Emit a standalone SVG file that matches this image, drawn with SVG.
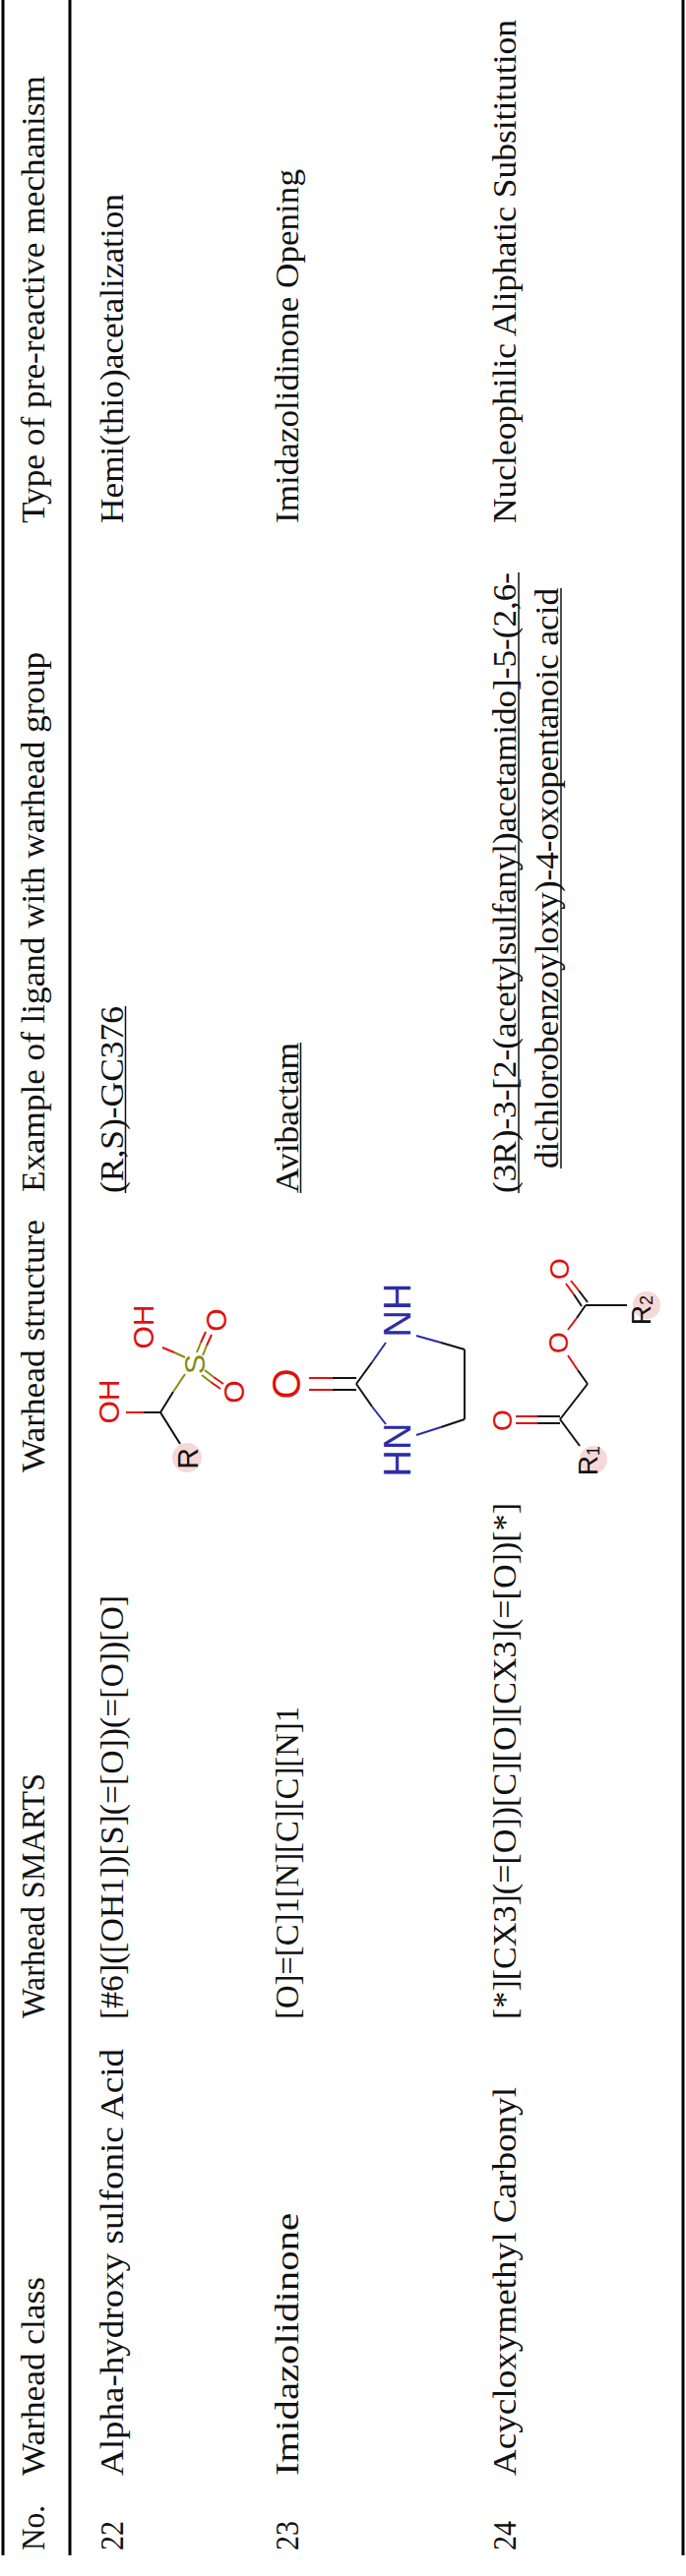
<svg xmlns="http://www.w3.org/2000/svg" width="697" height="2619" viewBox="0 0 697 2619">
<style>
.t{font-family:"Liberation Serif","Times New Roman",serif;font-size:33px;fill:#111}
.a{font-family:"Liberation Sans",Arial,sans-serif;text-anchor:middle;dominant-baseline:central}
.b{stroke:#111;stroke-width:2;fill:none}
.r{stroke:#e01010;stroke-width:2;fill:none}
.n{stroke:#2c2ca8;stroke-width:2;fill:none}
.s{stroke:#8a8a10;stroke-width:2;fill:none}
.u{stroke:#111;stroke-width:1.5}
.pk{fill:#f6d8d8}
</style>
<rect width="697" height="2619" fill="#fff"/>
<g id="grid">
<line x1="3" y1="0" x2="3" y2="2598" stroke="#000" stroke-width="3"/>
<line x1="71" y1="0" x2="71" y2="2598" stroke="#000" stroke-width="3"/>
<line x1="694" y1="0" x2="694" y2="2598" stroke="#000" stroke-width="3"/>
</g>
<g id="header">
<text class="t" transform="translate(45,2593) rotate(-90)" textLength="46" lengthAdjust="spacingAndGlyphs">No.</text>
<text class="t" transform="translate(45,2517) rotate(-90)" textLength="202" lengthAdjust="spacingAndGlyphs">Warhead class</text>
<text class="t" transform="translate(45,2052) rotate(-90)" textLength="249" lengthAdjust="spacingAndGlyphs">Warhead SMARTS</text>
<text class="t" transform="translate(45,1497) rotate(-90)" textLength="257" lengthAdjust="spacingAndGlyphs">Warhead structure</text>
<text class="t" transform="translate(45,1212) rotate(-90)" textLength="549" lengthAdjust="spacingAndGlyphs">Example of ligand with warhead group</text>
<text class="t" transform="translate(45,532) rotate(-90)" textLength="455" lengthAdjust="spacingAndGlyphs">Type of pre-reactive mechanism</text>
</g>
<g id="row22">
<text class="t" transform="translate(125,2593) rotate(-90)" textLength="30" lengthAdjust="spacingAndGlyphs">22</text>
<text class="t" transform="translate(125,2517) rotate(-90)" textLength="434" lengthAdjust="spacingAndGlyphs">Alpha-hydroxy sulfonic Acid</text>
<text class="t" transform="translate(125,2053) rotate(-90)" textLength="431" lengthAdjust="spacingAndGlyphs">[#6]([OH1])[S](=[O])(=[O])[O]</text>
<text class="t" transform="translate(125,1213) rotate(-90)" textLength="190" lengthAdjust="spacingAndGlyphs">(R,S)-GC376</text>
<line class="u" x1="127.5" y1="1213" x2="127.5" y2="1023"/>
<text class="t" transform="translate(125,532) rotate(-90)" textLength="335" lengthAdjust="spacingAndGlyphs">Hemi(thio)acetalization</text>
</g>
<g id="mol22">
<circle class="pk" cx="190" cy="1482" r="15"/>
<line class="r" x1="128" y1="1436" x2="146" y2="1436"/>
<line class="b" x1="146" y1="1436" x2="163" y2="1436"/>
<line class="b" x1="163" y1="1436" x2="183" y2="1468"/>
<line class="b" x1="163" y1="1436" x2="176" y2="1415"/>
<line class="s" x1="176" y1="1415" x2="188" y2="1397"/>
<line class="s" x1="188" y1="1380" x2="177" y2="1375"/>
<line class="r" x1="177" y1="1375" x2="165" y2="1370"/>
<line class="s" x1="206" y1="1378" x2="210" y2="1368"/>
<line class="r" x1="210" y1="1368" x2="215" y2="1357"/>
<line class="s" x1="200" y1="1375" x2="204" y2="1365"/>
<line class="r" x1="204" y1="1365" x2="209" y2="1354"/>
<line class="s" x1="208" y1="1393" x2="217" y2="1400"/>
<line class="r" x1="217" y1="1400" x2="227" y2="1407"/>
<line class="s" x1="205" y1="1398" x2="214" y2="1405"/>
<line class="r" x1="214" y1="1405" x2="224" y2="1412"/>
<text class="a" font-size="30" fill="#e01010" transform="translate(110,1425) rotate(-90)">OH</text>
<text class="a" font-size="30" fill="#e01010" transform="translate(145,1349) rotate(-90)">OH</text>
<text class="a" font-size="30" fill="#8a8a10" transform="translate(197,1387) rotate(-90)">S</text>
<text class="a" font-size="30" fill="#e01010" transform="translate(219,1342) rotate(-90)">O</text>
<text class="a" font-size="30" fill="#e01010" transform="translate(237,1415) rotate(-90)">O</text>
<text class="a" font-size="30" fill="#111" transform="translate(190,1483) rotate(-90)">R</text>
</g>
<g id="row23">
<text class="t" transform="translate(303,2593) rotate(-90)" textLength="30" lengthAdjust="spacingAndGlyphs">23</text>
<text class="t" transform="translate(303,2517) rotate(-90)" textLength="267" lengthAdjust="spacingAndGlyphs">Imidazolidinone</text>
<text class="t" transform="translate(303,2053) rotate(-90)" textLength="318" lengthAdjust="spacingAndGlyphs">[O]=[C]1[N][C][C][N]1</text>
<text class="t" transform="translate(303,1213) rotate(-90)" textLength="153" lengthAdjust="spacingAndGlyphs">Avibactam</text>
<line class="u" x1="305.5" y1="1213" x2="305.5" y2="1060"/>
<text class="t" transform="translate(303,532) rotate(-90)" textLength="360" lengthAdjust="spacingAndGlyphs">Imidazolidinone Opening</text>
</g>
<g id="mol23">
<line class="r" x1="314" y1="1401" x2="338" y2="1401" stroke-width="3"/>
<line class="b" x1="338" y1="1401" x2="362" y2="1401" stroke-width="3"/>
<line class="r" x1="314" y1="1413" x2="338" y2="1413" stroke-width="3"/>
<line class="b" x1="338" y1="1413" x2="362" y2="1413" stroke-width="3"/>
<line class="b" x1="362" y1="1407" x2="378" y2="1385" stroke-width="2.5"/>
<line class="n" x1="378" y1="1385" x2="392" y2="1365" stroke-width="2.5"/>
<line class="b" x1="362" y1="1407" x2="378" y2="1430" stroke-width="2.5"/>
<line class="n" x1="378" y1="1430" x2="392" y2="1448" stroke-width="2.5"/>
<line class="n" x1="423" y1="1358" x2="448" y2="1365" stroke-width="2.5"/>
<line class="b" x1="448" y1="1365" x2="472" y2="1372" stroke-width="2.5"/>
<line class="b" x1="472" y1="1372" x2="472" y2="1443" stroke-width="2.5"/>
<line class="b" x1="472" y1="1443" x2="448" y2="1451" stroke-width="2.5"/>
<line class="n" x1="448" y1="1451" x2="423" y2="1459" stroke-width="2.5"/>
<text class="a" font-size="40" fill="#e01010" transform="translate(291,1407) rotate(-90)">O</text>
<text class="a" font-size="38" fill="#2c2ca8" transform="translate(404,1332) rotate(-90)">NH</text>
<text class="a" font-size="38" fill="#2c2ca8" transform="translate(404,1474) rotate(-90)">HN</text>
</g>
<g id="row24">
<text class="t" transform="translate(524,2593) rotate(-90)" textLength="30" lengthAdjust="spacingAndGlyphs">24</text>
<text class="t" transform="translate(524,2517) rotate(-90)" textLength="395" lengthAdjust="spacingAndGlyphs">Acycloxymethyl Carbonyl</text>
<text class="t" transform="translate(524,2053) rotate(-90)" textLength="525" lengthAdjust="spacingAndGlyphs">[*][CX3](=[O])[C][O][CX3](=[O])[*]</text>
<text class="t" transform="translate(524,1213) rotate(-90)" textLength="631" lengthAdjust="spacingAndGlyphs">(3R)-3-[2-(acetylsulfanyl)acetamido]-5-(2,6-</text>
<line class="u" x1="527" y1="1213" x2="527" y2="582"/>
<text class="t" transform="translate(567,1188) rotate(-90)" textLength="590" lengthAdjust="spacingAndGlyphs">dichlorobenzoyloxy)-4-oxopentanoic acid</text>
<line class="u" x1="570" y1="1188" x2="570" y2="598"/>
<text class="t" transform="translate(524,532) rotate(-90)" textLength="512" lengthAdjust="spacingAndGlyphs">Nucleophilic Aliphatic Subsititution</text>
</g>
<g id="mol24">
<circle class="pk" cx="603" cy="1484" r="14"/>
<circle class="pk" cx="657" cy="1327" r="14"/>
<line class="r" x1="524" y1="1440" x2="546" y2="1440"/>
<line class="b" x1="546" y1="1440" x2="569" y2="1440"/>
<line class="r" x1="524" y1="1447" x2="546" y2="1447"/>
<line class="b" x1="546" y1="1447" x2="569" y2="1447"/>
<line class="b" x1="569" y1="1443" x2="589" y2="1470"/>
<line class="b" x1="569" y1="1443" x2="597" y2="1407"/>
<line class="b" x1="597" y1="1407" x2="587" y2="1393"/>
<line class="r" x1="587" y1="1393" x2="577" y2="1378"/>
<line class="r" x1="577" y1="1352" x2="586" y2="1340"/>
<line class="b" x1="586" y1="1340" x2="595" y2="1327"/>
<line class="b" x1="595" y1="1327" x2="637" y2="1327"/>
<line class="b" x1="597" y1="1324" x2="588" y2="1312"/>
<line class="r" x1="588" y1="1312" x2="580" y2="1302"/>
<line class="b" x1="591" y1="1328" x2="583" y2="1316"/>
<line class="r" x1="583" y1="1316" x2="575" y2="1305"/>
<text class="a" font-size="28" fill="#e01010" transform="translate(510,1444) rotate(-90)">O</text>
<text class="a" font-size="28" fill="#e01010" transform="translate(567,1365) rotate(-90)">O</text>
<text class="a" font-size="28" fill="#e01010" transform="translate(568,1290) rotate(-90)">O</text>
<text class="a" font-size="28" fill="#111" transform="translate(597,1485) rotate(-90)">R<tspan font-size="18" dy="6">1</tspan></text>
<text class="a" font-size="28" fill="#111" transform="translate(651,1332) rotate(-90)">R<tspan font-size="18" dy="6">2</tspan></text>
</g>
</svg>
